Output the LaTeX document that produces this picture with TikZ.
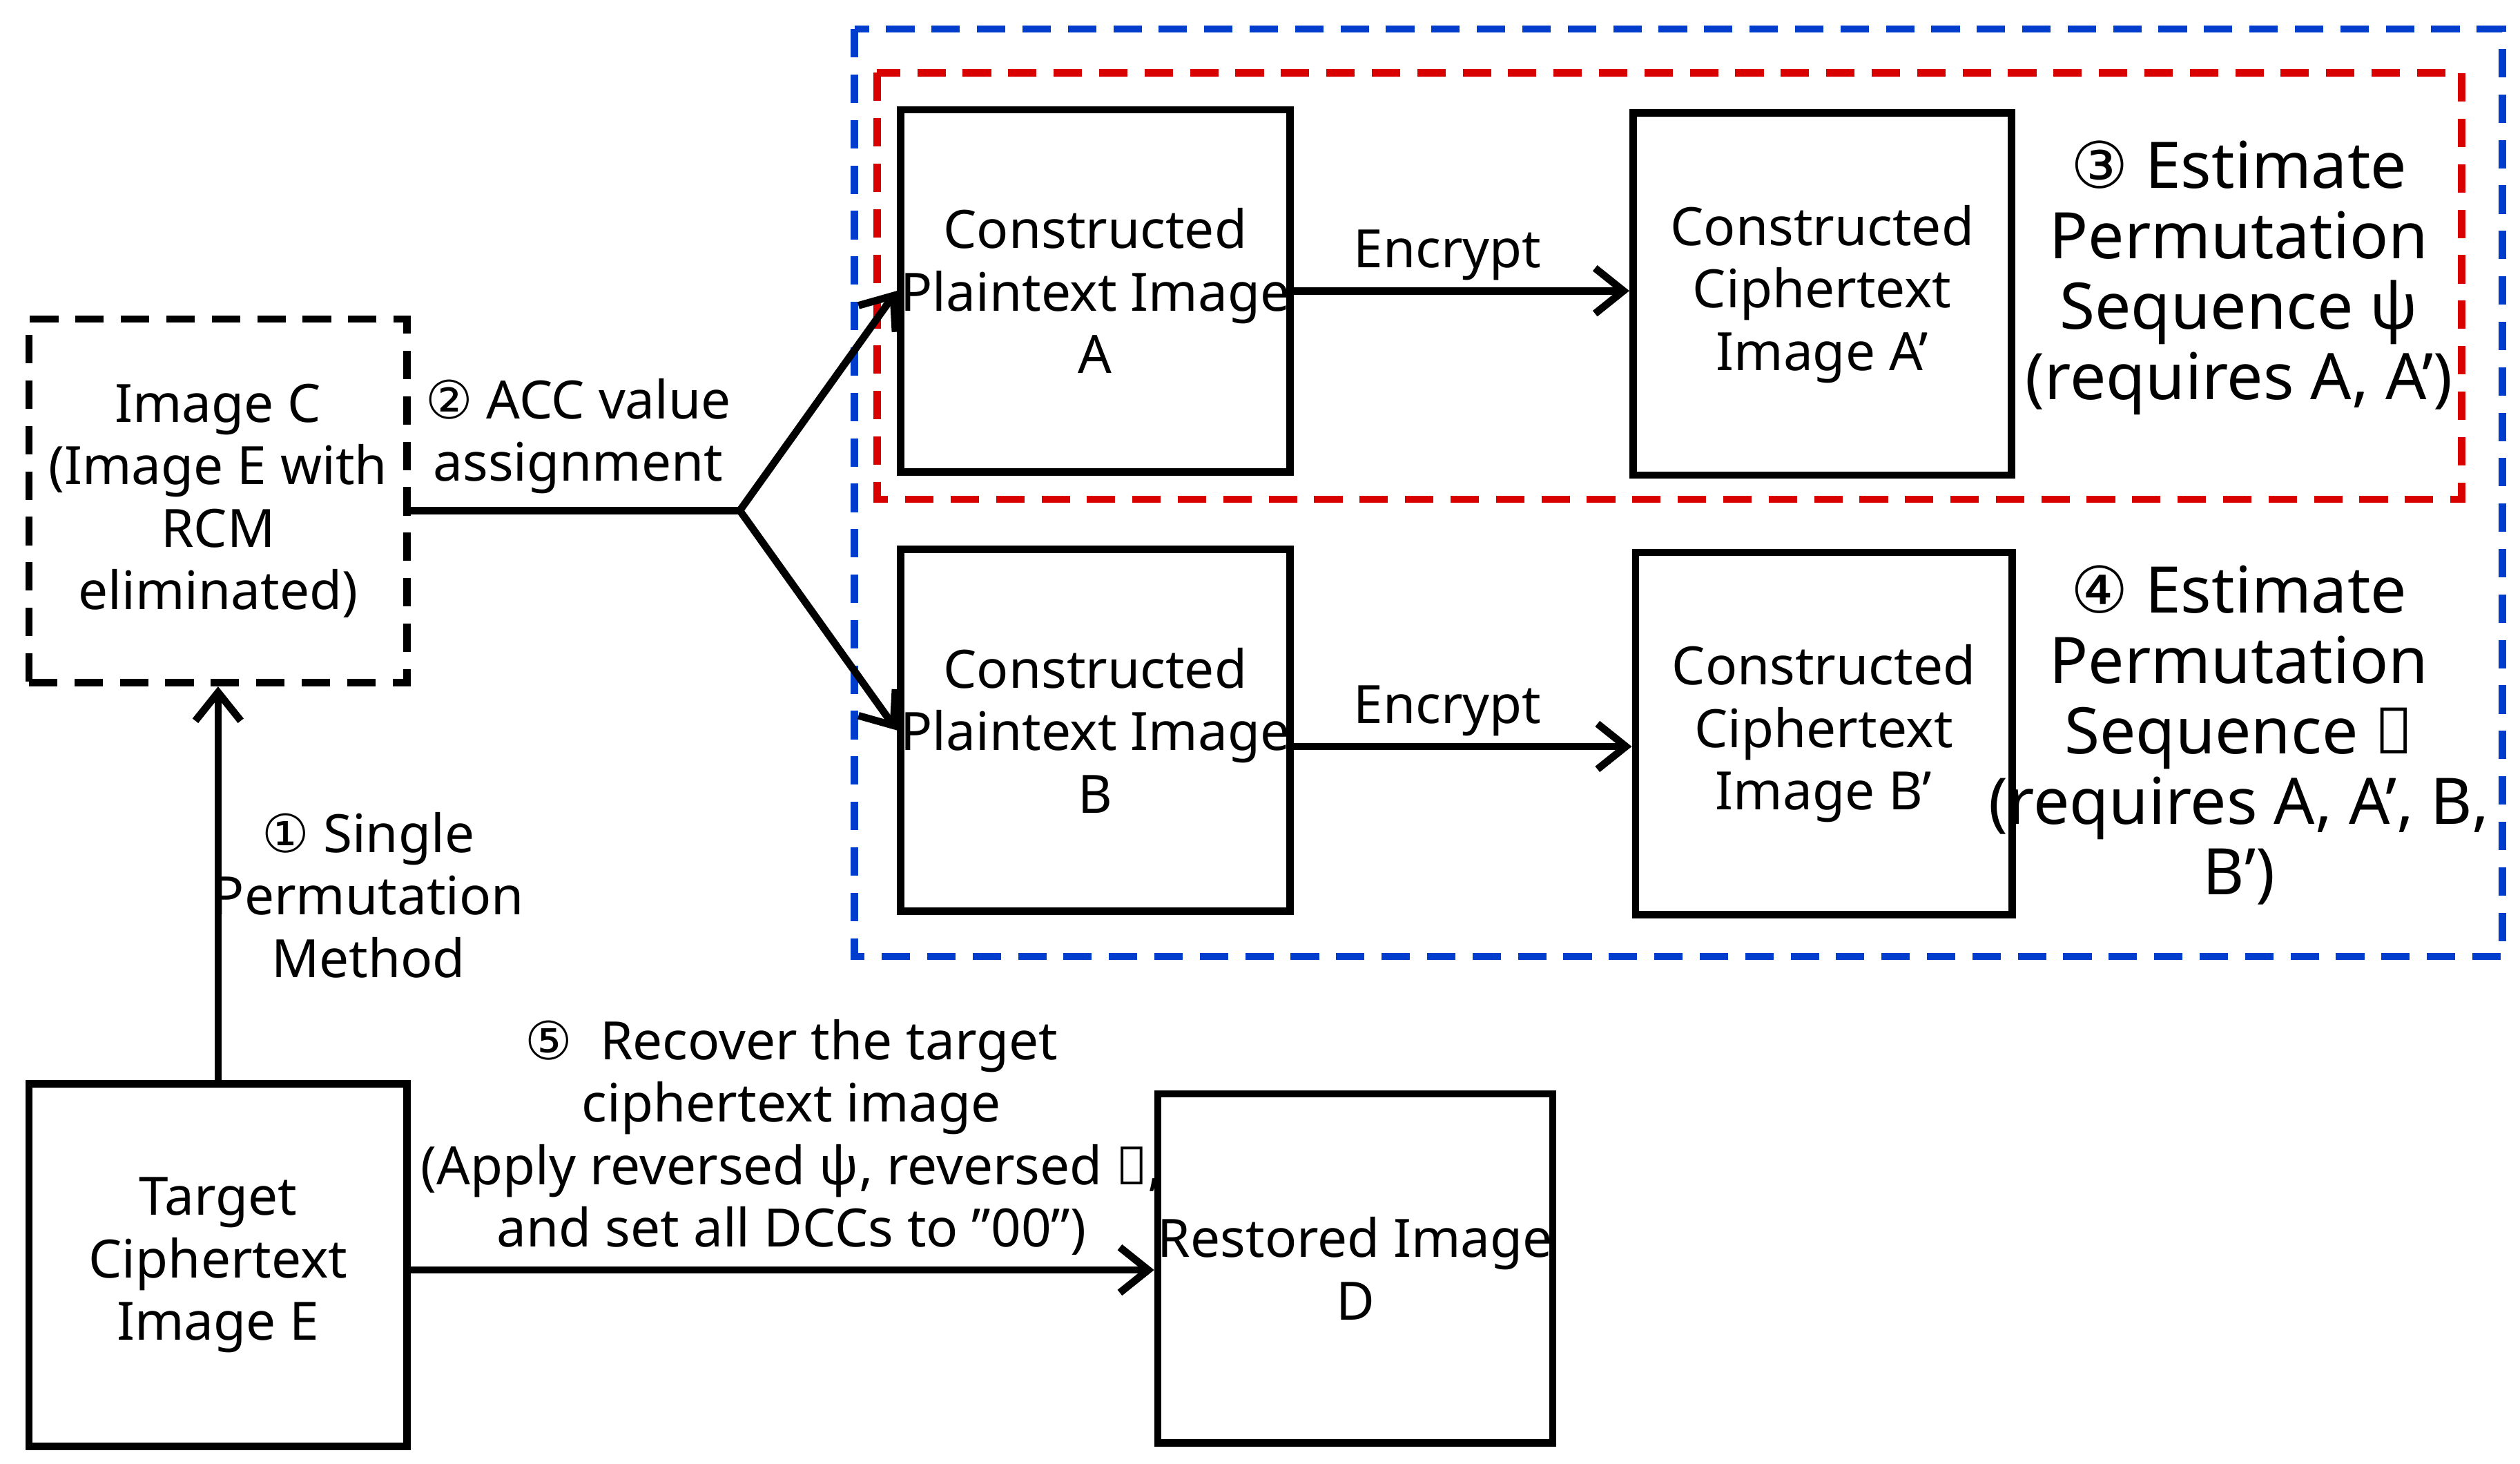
\documentclass[tikz,border=0pt]{standalone}
\usepackage{fontspec}
\setmainfont{Noto Sans}
\newfontfamily\circfont{DejaVu Sans}
\usetikzlibrary{arrows.meta}
\newcommand{\cn}[1]{{\circfont #1}}
\begin{document}
\begin{tikzpicture}[x=0.01cm,y=-0.01cm,
  box/.style={draw,line width=1.3pt,align=center,inner sep=0pt},
  lbl/.style={align=center,font=\fontsize{9.3}{11}\selectfont},
  arr/.style={line width=1.3pt,-{Straight Barb[length=5pt,width=8pt]}},
  ln/.style={line width=1.3pt},
  every node/.style={font=\fontsize{9.3}{11}\selectfont}]
\useasboundingbox (0,0) rectangle (1560,906);
\draw[dashed,line width=1.3pt,blue!70!cyan!80!black,dash pattern=on 5pt off 3pt] (529,18) rectangle (1549,592);
\draw[dashed,line width=1.3pt,red!85!black,dash pattern=on 5pt off 3pt] (543,45) rectangle (1524,309);
\node[box,dashed,dash pattern=on 5pt off 3pt,minimum width=2.34cm,minimum height=2.25cm] (C) at (135,310) {Image C\\(Image E with\\RCM\\eliminated)};
\node[box,minimum width=2.34cm,minimum height=2.24cm] (E) at (135,783) {Target\\Ciphertext\\Image E};
\node[box,minimum width=2.34cm,minimum height=2.24cm] (A) at (678,180) {Constructed\\Plaintext Image\\A};
\node[box,minimum width=2.34cm,minimum height=2.24cm] (A2) at (1128,182) {Constructed\\Ciphertext\\Image A'};
\node[box,minimum width=2.34cm,minimum height=2.24cm] (B) at (678,452) {Constructed\\Plaintext Image\\B};
\node[box,minimum width=2.33cm,minimum height=2.24cm] (B2) at (1129,454) {Constructed\\Ciphertext\\Image B'};
\node[box,minimum width=2.30cm,minimum height=2.16cm] (D) at (839,785) {Restored Image\\D};
\coordinate (br) at (458,316);
\draw[ln] (C.east |- br) -- (br);
\draw[arr] (br) -- (A.west);
\draw[arr] (br) -- (B.west);
\draw[arr] (A.east) -- (A2.west |- A.east);
\draw[arr] (B.east |- 0,462) -- (B2.west |- 0,462);
\draw[arr] (E.north) -- (C.south);
\draw[arr] (E.east |- 0,786) -- (D.west |- 0,786);
\node[lbl] at (358,270) {\cn{②} ACC value\\assignment};
\node[lbl] at (896,158) {Encrypt};
\node[lbl] at (896,440) {Encrypt};
\node[lbl,font=\fontsize{11.3}{12.4}\selectfont] at (1386,172) {\cn{③} Estimate\\Permutation\\Sequence ψ\\(requires A, A')};
\node[lbl,font=\fontsize{11.3}{12.4}\selectfont] at (1386,455) {\cn{④} Estimate\\Permutation\\Sequence $\mathbf{\Pi}$\\(requires A, A', B,\\B')};
\node[lbl] at (228,554) {\cn{①} Single\\Permutation\\Method};
\node[lbl] at (490,704) {\cn{⑤}\ \ Recover the target\\ciphertext image\\(Apply reversed ψ, reversed $\mathbf{\Pi}$,\\and set all DCCs to "00")};
\end{tikzpicture}
\end{document}
